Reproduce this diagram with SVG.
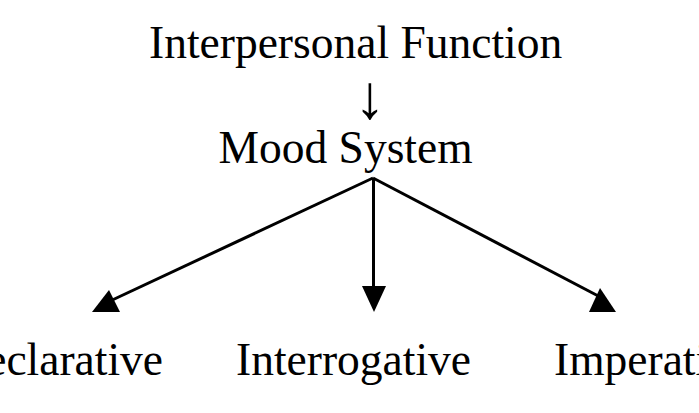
<svg xmlns="http://www.w3.org/2000/svg" width="699" height="413" viewBox="0 0 699 413">
<style>
.t{font-family:"Liberation Serif","Times New Roman",serif;font-size:45.5px;fill:#000}
.a{font-family:"Liberation Serif","Times New Roman",serif;font-size:62px;fill:#000}
.l{stroke:#000;stroke-width:3;fill:none}
.h{fill:#000}
</style>
<rect width="699" height="413" fill="#fff"/>
<g id="interpersonal"><text class="t" x="149" y="58">Interpersonal Function</text></g>
<g id="down-arrow"><text class="a" x="370" y="118" text-anchor="middle">↓</text></g>
<g id="mood"><text class="t" x="218.5" y="163">Mood System</text></g>
<g id="declarative"><text class="t" x="163" y="375" text-anchor="end">Declarative</text></g>
<g id="interrogative"><text class="t" x="236" y="375">Interrogative</text></g>
<g id="imperative"><text class="t" x="554" y="375">Imperative</text></g>
<g id="connectors">
<line class="l" x1="373" y1="178" x2="108" y2="302"/>
<polygon class="h" points="92,312 109,290 120,312"/>
<line class="l" x1="373.5" y1="178" x2="373.5" y2="290"/>
<polygon class="h" points="362,286 386,286 374,312"/>
<line class="l" x1="373" y1="178" x2="604" y2="299"/>
<polygon class="h" points="600,288 589,312 616,312"/>
</g>
</svg>
